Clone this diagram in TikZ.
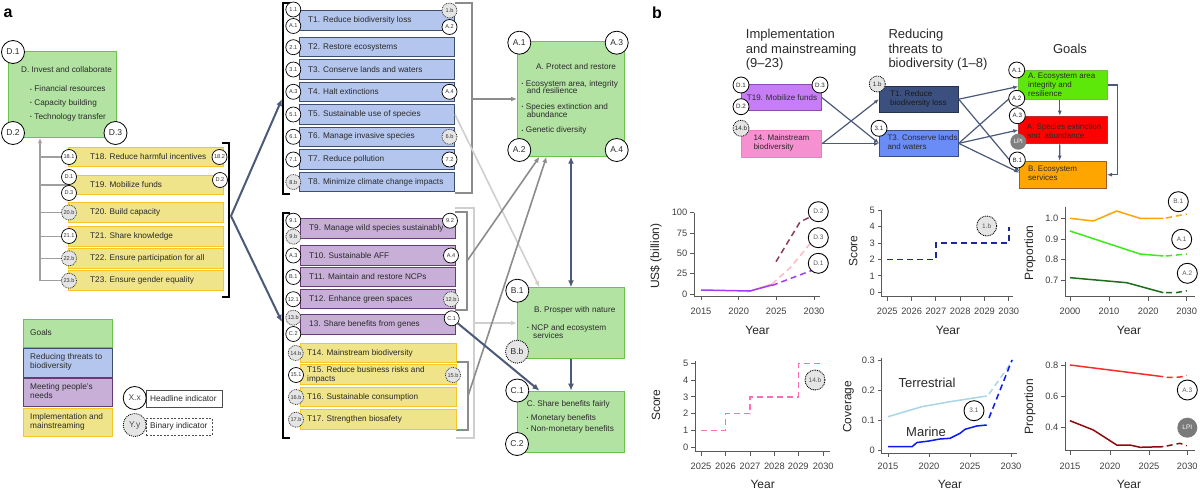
\documentclass[tikz,border=0pt]{standalone}
\usepackage{fontspec}
\setmainfont{Liberation Sans}
\usepackage{graphicx}
\usetikzlibrary{arrows.meta}
\definecolor{goalfill}{HTML}{B3E3A3}
\definecolor{goaldraw}{HTML}{6CC24A}
\definecolor{bluefill}{HTML}{B4C6EE}
\definecolor{bluedraw}{HTML}{3D4E6E}
\definecolor{purfill}{HTML}{C8AFD8}
\definecolor{purdraw}{HTML}{6A3A78}
\definecolor{yelfill}{HTML}{EFE48A}
\definecolor{yeldraw}{HTML}{F7C525}
\definecolor{slate}{HTML}{4A5A78}
\definecolor{midgray}{HTML}{8C8C8C}
\definecolor{ltgray}{HTML}{CFCFCF}
\definecolor{txtc}{HTML}{2A2A2A}
\definecolor{t19f}{HTML}{C77DF5}
\definecolor{t19d}{HTML}{8E4AB0}
\definecolor{pinkf}{HTML}{F590D1}
\definecolor{pinkd}{HTML}{EC7EC6}
\definecolor{navyf}{HTML}{3C5080}
\definecolor{navyd}{HTML}{24344F}
\definecolor{t3f}{HTML}{6A8CF7}
\definecolor{t3d}{HTML}{3A4E85}
\definecolor{limef}{HTML}{5EE80A}
\definecolor{limed}{HTML}{70C040}
\definecolor{redd}{HTML}{B43232}
\definecolor{orf}{HTML}{FFA500}
\definecolor{ord}{HTML}{9E5B2A}
\definecolor{cPur}{HTML}{A23BF5}
\definecolor{cLpink}{HTML}{FFB9C4}
\definecolor{cMaroon}{HTML}{8A3B62}
\definecolor{cNavy}{HTML}{1A2A9A}
\definecolor{cOrange}{HTML}{FFA500}
\definecolor{cGreen}{HTML}{3DEB1A}
\definecolor{cDgreen}{HTML}{1B6E1B}
\definecolor{cPink}{HTML}{FF6EB4}
\definecolor{cLblue}{HTML}{A9D6E5}
\definecolor{cBlue}{HTML}{0A1AF0}
\definecolor{cRed}{HTML}{FF2A2A}
\definecolor{cDred}{HTML}{8B0A0A}
\newcommand{\myfT}{\fontsize{8.2}{9}\selectfont}
\newcommand{\myfL}{\fontsize{8.3}{8.7}\selectfont}
\newcommand{\myfB}{\fontsize{8}{9}\selectfont}
\newcommand{\myfH}{\fontsize{13}{14.7}\selectfont}
\newcommand{\mybul}{\raisebox{0.15ex}{\scalebox{0.6}{\textbullet}}\hspace{2.5pt}}
\begin{document}
\begin{tikzpicture}[x=1pt,y=-1pt]
\tikzset{
 tx/.style={inner sep=0pt, font=\myfT, text=txtc},
 hcS/.style={circle, draw=black, line width=0.7pt, fill=white, inner sep=0pt, minimum size=15pt, font=\fontsize{5.6}{5.6}\selectfont, text=black!80},
 bcS/.style={hcS, draw=black!85, dash pattern=on 0.9pt off 0.9pt, fill=black!10},
 hcL/.style={circle, draw=black, line width=0.8pt, fill=white, inner sep=0pt, minimum size=23pt, font=\fontsize{8.5}{9}\selectfont, text=txtc},
 bcL/.style={hcL, dash pattern=on 1pt off 1pt, fill=black!10},
 hcM/.style={circle, draw=black, line width=0.8pt, fill=white, inner sep=0pt, minimum size=16pt, font=\fontsize{6.2}{6.2}\selectfont, text=txtc},
 bcM/.style={hcM, dash pattern=on 0.9pt off 0.9pt, fill=black!10},
 hcC/.style={circle, draw=black, line width=0.9pt, fill=white, inner sep=0pt, minimum size=20pt, font=\fontsize{6.5}{7}\selectfont, text=black!65},
 bcC/.style={hcC, dash pattern=on 0.9pt off 0.9pt, fill=black!10},
 goalbox/.style={draw=goaldraw, fill=goalfill, line width=1pt, inner sep=0pt},
 bluebox/.style={draw=bluedraw, fill=bluefill, line width=1pt, inner sep=0pt},
 purbox/.style={draw=purdraw, fill=purfill, line width=1pt, inner sep=0pt},
 yelbox/.style={draw=yeldraw, fill=yelfill, line width=1pt, inner sep=0pt},
 bxb/.style={line width=1pt, inner sep=0pt, anchor=north west},
 gline/.style={draw=gray!75, line width=1.1pt},
 sarrow/.style={draw=slate, line width=2pt, -{Latex[length=7pt,width=6pt]}},
 garrow/.style={draw=midgray, line width=1.6pt, -{Latex[length=6pt,width=5pt]}},
 larrow/.style={draw=ltgray, line width=1.6pt, -{Latex[length=6pt,width=5pt]}},
 barrow/.style={draw=slate, line width=1.2pt, -{Latex[length=5pt,width=4pt]}},
 axisl/.style={draw=black!65, line width=0.9pt},
 ticklab/.style={inner sep=0pt, font=\fontsize{9.3}{10}\selectfont, text=black!75},
 atitle/.style={inner sep=0pt, font=\fontsize{12}{13}\selectfont, text=black!85},
 dashln/.style={line width=1.5pt, dash pattern=on 6pt off 4pt},
 solidln/.style={line width=1.5pt},
}
\useasboundingbox (0,0) rectangle (1200,490);
\fill[white] (0,0) rectangle (1200,490);

% ================= PANEL A =================
\node[font=\fontsize{16}{16}\selectfont\bfseries, inner sep=0pt] (lbla) at (8,13) {a};

% D box
\node[goalbox, minimum width=108pt, minimum height=86pt, anchor=north west] (Dbox) at (8,51) {};
\node[tx, anchor=west] (Dt0) at (21,70) {D. Invest and collaborate};
\node[tx, anchor=west] (Dt1) at (30,89) {\mybul Financial resources};
\node[tx, anchor=west] (Dt2) at (30,103) {\mybul Capacity building};
\node[tx, anchor=west] (Dt3) at (30,117) {\mybul Technology transfer};

% stem
\coordinate (stem) at (40,281);
\draw[gline,-{Latex[length=5pt,width=4pt]}] (stem) -- (stem |- Dbox.south);

% yellow rows (left)
\foreach \n/\yy/\t in {18/157/{T18. Reduce harmful incentives},19/185/{T19. Mobilize funds},20/212.5/{T20. Build capacity},21/236.5/{T21. Share knowledge},22/258.3/{T22. Ensure participation for all},23/280.7/{T23. Ensure gender equality}}{
 \draw[gline] (stem |- 68,\yy) -- (68,\yy);
 \node[yelbox, minimum width=155pt, minimum height=19.5pt, anchor=west] (y\n) at (68,\yy) {};
 \node[tx, anchor=west] (yt\n) at (90,\yy) {\t};
}
\node[hcS] (c181) at (69,157) {18.1};
\node[hcS] (c182) at (219.5,157) {18.2};
\node[hcS] (c19a) at (69,177) {D.1};
\node[hcS] (c19c) at (69,193) {D.3};
\node[hcS] (c19b) at (220,180) {D.2};
\node[bcS] (c20b) at (69,212.5) {20.b};
\node[hcS] (c211) at (69,236) {21.1};
\node[bcS] (c22b) at (69,258.3) {22.b};
\node[bcS] (c23b) at (69,280.7) {23.b};

\node[hcL] (cD1) at (13,52) {D.1};
\node[hcL] (cD2) at (13,133) {D.2};
\node[hcL] (cD3) at (115.5,133) {D.3};

% left bracket and arrows
\draw[line width=2pt] (222,143) -- (229,143) -- (229,297) -- (222,297);
\coordinate (bY) at (231,216);
\coordinate (bB1) at (282,99);
\coordinate (bP1) at (282,322);
\draw[sarrow] (bY) -- (bB1);
\draw[sarrow] (bY) -- (bP1);

% legend
\node[goalbox, minimum width=89pt, minimum height=27.7pt, anchor=north west] (lg1) at (23,319) {};
\node[bluebox, minimum width=89pt, minimum height=28.4pt, anchor=north west] (lg2) at (23,348.3) {};
\node[purbox, minimum width=89pt, minimum height=27.7pt, anchor=north west] (lg3) at (23,378) {};
\node[yelbox, minimum width=89pt, minimum height=27.7pt, anchor=north west] (lg4) at (23,408.3) {};
\node[tx, font=\myfL, anchor=west] (lgt1) at (30,332.5) {Goals};
\node[tx, font=\myfL, anchor=west, align=left] (lgt2) at (30,362) {Reducing threats to\\biodiversity};
\node[tx, font=\myfL, anchor=west, align=left] (lgt3) at (30,391.3) {Meeting people's\\needs};
\node[tx, font=\myfL, anchor=west, align=left] (lgt4) at (30,421.7) {Implementation and\\mainstreaming};
\node[draw=black!70, line width=0.8pt, minimum width=76pt, minimum height=17.3pt, anchor=north west, inner sep=0pt] (hlr) at (146,390) {};
\node[tx, font=\myfL, anchor=west] (hlt) at (150,398.7) {Headline indicator};
\node[hcL, text=black!70] (hlc) at (134.7,398) {X.x};
\node[draw=black!70, line width=0.8pt, dash pattern=on 2pt off 1.5pt, minimum width=66pt, minimum height=17pt, anchor=north west, inner sep=0pt] (blr) at (146,418) {};
\node[tx, font=\myfL, anchor=west] (blt) at (150,426.5) {Binary indicator};
\node[bcL, text=black!70] (blc) at (134.7,425) {Y.y};

% middle: brackets
\draw[line width=2pt] (290,3) -- (283,3) -- (283,194) -- (290,194);
\draw[line width=2pt] (290,213) -- (283,213) -- (283,438) -- (290,438);
\draw[draw=midgray, line width=1.8pt] (455,3) -- (472,3) -- (472,193) -- (455,193);
\draw[draw=ltgray, line width=1.8pt] (455,208) -- (474,208) -- (474,438) -- (456,438);
\draw[draw=midgray, line width=1.8pt] (455,212) -- (467,212) -- (467,310) -- (455,310);
\draw[draw=midgray, line width=1.8pt] (456,362) -- (468,362) -- (468,430) -- (456,430);

% blue boxes
\foreach \n/\yy/\t in {1/20.5/{T1. Reduce biodiversity loss},2/47.2/{T2. Restore ecosystems},3/69.5/{T3. Conserve lands and waters},4/91.8/{T4. Halt extinctions},5/114.5/{T5. Sustainable use of species},6/136.8/{T6. Manage invasive species},7/159.5/{T7. Reduce pollution},8/182/{T8. Minimize climate change impacts}}{
 \node[bluebox, minimum width=155pt, minimum height=19.5pt, anchor=west] (b\n) at (299,\yy) {};
 \node[tx, anchor=west] (bt\n) at (308,\yy) {\t};
}
% purple boxes
\foreach \n/\yy/\t in {9/228.5/{T9. Manage wild species sustainably},10/255.5/{T10. Sustainable AFF},11/277/{T11. Maintain and restore NCPs},12/299.2/{T12. Enhance green spaces},13/324.7/{13. Share benefits from genes}}{
 \node[purbox, minimum width=155pt, minimum height=19.5pt, anchor=west] (p\n) at (299.5,\yy) {};
 \node[tx, anchor=west] (pt\n) at (309,\yy) {\t};
}
% yellow middle
\foreach \n/\yy/\t in {14/353/{T14. Mainstream biodiversity},16/397/{T16. Sustainable consumption},17/419.7/{T17. Strengthen biosafety}}{
 \node[yelbox, minimum width=155.7pt, minimum height=19.5pt, anchor=west] (m\n) at (300,\yy) {};
 \node[tx, anchor=west] (mt\n) at (307,\yy) {\t};
}
\node[yelbox, minimum width=155.7pt, minimum height=19.5pt, anchor=west] (m15) at (300,374.5) {};
\node[tx, anchor=west, align=left] (mt15) at (307,374.5) {T15. Reduce business risks and\\impacts};

% middle circles
\node[hcS] (k11) at (293.3,9.5) {1.1};
\node[hcS] (kA1) at (293.3,26) {A.1};
\node[bcS] (k1b) at (449.5,10.5) {1.b};
\node[hcS] (kA2) at (449.5,27) {A.2};
\node[hcS] (k21) at (293.3,47.2) {2.1};
\node[hcS] (k31) at (293.3,69.5) {3.1};
\node[hcS] (kA3) at (293.3,91.8) {A.3};
\node[hcS] (kA4) at (449.5,91.8) {A.4};
\node[hcS] (k51) at (293.3,114.5) {5.1};
\node[hcS] (k61) at (293.3,136.8) {6.1};
\node[bcS] (k6b) at (449.5,136.8) {6.b};
\node[hcS] (k71) at (293.3,159.5) {7.1};
\node[hcS] (k72) at (449.5,159.5) {7.2};
\node[bcS] (k8b) at (293.3,182) {8.b};
\node[hcS] (k91) at (293.3,220.7) {9.1};
\node[bcS] (k9b) at (293.3,236.7) {9.b};
\node[hcS] (k92) at (450,220.7) {9.2};
\node[hcS] (kA3b) at (293.3,255.5) {A.3};
\node[hcS] (kA4b) at (451,255.5) {A.4};
\node[hcS] (kB1) at (293.3,277) {B.1};
\node[hcS] (k121) at (293.3,299.2) {12.1};
\node[bcS] (k12b) at (451,299.2) {12.b};
\node[bcS] (k13b) at (293.3,317.7) {13.b};
\node[hcS] (kC2) at (293.3,334) {C.2};
\node[hcS] (kC1) at (451.7,318.3) {C.1};
\node[bcS] (k14b) at (295.7,353) {14.b};
\node[hcS] (k151) at (296,375) {15.1};
\node[bcS] (k15b) at (453,375) {15.b};
\node[bcS] (k16b) at (296,397) {16.b};
\node[bcS] (k17b) at (296,419.7) {17.b};

% goal boxes
\node[goalbox, minimum width=107pt, minimum height=114.4pt, anchor=north west] (Abox) at (517,41.3) {};
\node[goalbox, minimum width=107pt, minimum height=71pt, anchor=north west] (Bbox) at (517,287.3) {};
\node[goalbox, minimum width=107pt, minimum height=61pt, anchor=north west] (Cbox) at (517,390.7) {};
\node[tx, anchor=west] (At0) at (536,66.7) {A. Protect and restore};
\node[tx, anchor=west] (At1) at (521.5,84) {\mybul Ecosystem area, integrity};
\node[tx, anchor=west] (At1b) at (526.7,91) {and resilience};
\node[tx, anchor=west] (At2) at (521.5,107.3) {\mybul Species extinction and};
\node[tx, anchor=west] (At2b) at (526.7,114.3) {abundance};
\node[tx, anchor=west] (At3) at (521.5,130.7) {\mybul Genetic diversity};
\node[tx, anchor=west] (Bt0) at (534,310) {B. Prosper with nature};
\node[tx, anchor=west] (Bt1) at (527,328.3) {\mybul NCP and ecosystem};
\node[tx, anchor=west] (Bt1b) at (533,335.3) {services};
\node[tx, anchor=west] (Ct0) at (526.7,404.7) {C. Share benefits fairly};
\node[tx, anchor=west] (Ct1) at (526.5,418.3) {\mybul Monetary benefits};
\node[tx, anchor=west] (Ct2) at (526.5,429.3) {\mybul Non-monetary benefits};

% arrows to goals
\coordinate (gB) at (472,99);
\coordinate (gP) at (467,261);
\coordinate (gY) at (468,396);
\coordinate (lP) at (474,323);
\draw[larrow] (b5.east) -- ([xshift=-31.5pt]Bbox.north);
\draw[larrow] (lP) -- (lP -| Bbox.west);
\draw[garrow] (gB) -- (gB -| Abox.west);
\draw[garrow] (gP) -- ([xshift=-31.5pt]Abox.south);
\draw[garrow] (gY) -- ([xshift=-24.5pt]Abox.south);
\draw[sarrow] (kC1) -- ([xshift=-31.5pt]Cbox.north);
\draw[sarrow,{Latex[length=7pt,width=6pt]}-{Latex[length=7pt,width=6pt]}] (Abox.south) -- (Bbox.north);
\draw[sarrow] (Bbox.south) -- (Cbox.north);

\node[hcL] (gA1) at (519.3,42.7) {A.1};
\node[hcL] (gA3) at (616.7,42.7) {A.3};
\node[hcL] (gA2) at (519.3,150) {A.2};
\node[hcL] (gA4) at (616.7,150) {A.4};
\node[hcL] (gB1) at (517.3,290.7) {B.1};
\node[bcL] (gBb) at (517,351.7) {B.b};
\node[hcL] (gC1) at (517.3,390.5) {C.1};
\node[hcL] (gC2) at (517,444) {C.2};

% ================= PANEL B =================
\node[font=\fontsize{16}{16}\selectfont\bfseries, inner sep=0pt] (lblb) at (657,13) {b};
\node[inner sep=0pt, font=\myfH, align=left, anchor=west, text=txtc] (hdI) at (745.7,49.7) {Implementation\\and mainstreaming\\(9--23)};
\node[inner sep=0pt, font=\myfH, align=left, anchor=west, text=txtc] (hdR) at (888.3,49.7) {Reducing\\threats to\\biodiversity (1--8)};
\node[inner sep=0pt, font=\myfH, text=txtc] (hdG) at (1070,49.3) {Goals};

\node[bxb, draw=t19d, fill=t19f, minimum width=80pt, minimum height=25.7pt] (bT19) at (741,84.3) {};
\node[tx, font=\myfB] (bT19t) at (782,97.5) {T19. Mobilize funds};
\node[bxb, draw=pinkd, fill=pinkf, minimum width=80pt, minimum height=26.5pt] (b14) at (741,130) {};
\node[tx, font=\myfB, align=left, anchor=west] (b14t) at (753.3,143) {14. Mainstream\\biodiversity};
\node[bxb, draw=navyd, fill=navyf, minimum width=78.7pt, minimum height=26pt] (bT1) at (879,85.7) {};
\node[tx, font=\myfB, align=left, anchor=west, text=black!90] (bT1t) at (890,98.5) {T1. Reduce\\biodiversity loss};
\node[bxb, draw=t3d, fill=t3f, minimum width=78.7pt, minimum height=25.7pt] (bT3) at (879,130) {};
\node[tx, font=\myfB, align=left, anchor=west] (bT3t) at (887.3,142.6) {T3. Conserve lands\\and waters};
\node[bxb, draw=limed, fill=limef, minimum width=89pt, minimum height=29pt] (bA) at (1018.3,70) {};
\node[tx, font=\myfB, align=left, anchor=west] (bAt) at (1028,84.3) {A. Ecosystem area\\integrity and\\resilience};
\node[bxb, draw=redd, fill=red, minimum width=89pt, minimum height=27.6pt] (bR) at (1018.3,115.7) {};
\node[tx, font=\myfB, align=left, anchor=west] (bRt) at (1026.7,131.3) {A. Species extinction\\and\ \ abundance};
\node[bxb, draw=ord, fill=orf, minimum width=86.7pt, minimum height=27pt] (bO) at (1019.3,160.7) {};
\node[tx, font=\myfB, align=left, anchor=west] (bOt) at (1028,173) {B. Ecosystem\\services};

\draw[barrow] (bT19.east) -- (bT3.west);
\draw[barrow] (b14.east) -- (bT1.west);
\draw[barrow] (b14.east) -- (b14.east -| bT3.west);
\draw[barrow] (bT1.east) -- ([yshift=-1.5pt]bA.west);
\draw[barrow] (bT1.east) -- ([yshift=3pt]bO.west);
\draw[barrow] (bT3.east) -- ([yshift=-5.5pt]bA.west);
\draw[barrow] (bT3.east) -- (bR.west);
\draw[barrow] (bT3.east) -- ([yshift=2pt]bO.west);
\draw[barrow] ([xshift=-3.5pt]bA.south) -- ([xshift=-3.5pt]bR.north);
\draw[barrow] ([xshift=-3.5pt]bR.south) -- ([xshift=-3.5pt]bO.north);
\draw[barrow] (bA.east) -- ++(9.4,0) |- (bO.east);

\node[hcM] (pD1) at (741,85) {D.1};
\node[hcM] (pD3) at (820,85) {D.3};
\node[hcM] (pD2) at (741,106.7) {D.2};
\node[bcM] (p14b) at (741,128.3) {14.b};
\node[bcM] (p1b) at (877.3,84) {1.b};
\node[hcM] (p31) at (879,128.3) {3.1};
\node[hcM] (pA1) at (1016.7,70) {A.1};
\node[hcM] (pA2) at (1016.7,98.3) {A.2};
\node[hcM] (pA3) at (1017.3,115.7) {A.3};
\node[hcM, draw=none, fill=black!50, text=white] (pLPI) at (1018.3,141.7) {LPI};
\node[hcM] (pB1) at (1017.3,160) {B.1};

% ---- Chart 1: US$
\draw[axisl] (694,212.7) -- (694,296) -- (820,296);
\foreach \v/\yy [count=\i] in {0/294,25/273.7,50/253.4,75/233,100/212.7}{
 \draw[axisl] (694,\yy) -- (690,\yy);
 \node[ticklab, anchor=east] (k1y\i) at (687.5,\yy) {\v};}
\foreach \v/\xx [count=\i] in {2015/701,2020/738.7,2025/776.3,2030/814}{
 \draw[axisl] (\xx,296) -- (\xx,300);
 \node[ticklab] (k1x\i) at (\xx,311.7) {\v};}
\node[atitle] (k1t) at (757.5,330.7) {Year};
\node[atitle, rotate=90] (k1u) at (656,256) {US\$ (billion)};
\draw[solidln, cLpink] (747,292) -- (772,284);
\draw[solidln, cPur] (701,290) -- (750,291) -- (772,285);
\draw[dashln, cLpink] (772,284) -- (790,268) -- (813,240);
\draw[dashln, cPur] (772,285.5) -- (813,270);
\draw[dashln, cMaroon] (776,261.7) -- (800,222) -- (810,217);
\node[hcC] (qD2) at (818.3,211.7) {D.2};
\node[hcC] (qD3) at (818.3,237.7) {D.3};
\node[hcC] (qD1) at (818.3,263.3) {D.1};

% ---- Chart 2: Score 1.b
\draw[axisl] (881.7,210) -- (881.7,296.7) -- (1013,296.7);
\foreach \v/\yy [count=\i] in {0/292.3,1/275.8,2/259.4,3/243,4/226.5,5/210}{
 \draw[axisl] (881.7,\yy) -- (877.7,\yy);
 \node[ticklab, anchor=east] (k2y\i) at (875,\yy) {\v};}
\foreach \v/\xx [count=\i] in {2025/887.3,2026/911.6,2027/935.9,2028/960.2,2029/984.5,2030/1008.8}{
 \draw[axisl] (\xx,296.7) -- (\xx,300.7);
 \node[ticklab] (k2x\i) at (\xx,311.7) {\v};}
\node[atitle] (k2t) at (948,330.7) {Year};
\node[atitle, rotate=90] (k2u) at (853.3,251) {Score};
\draw[dashln, cNavy] (887.3,259.4) -- (935.9,259.4) -- (935.9,243) -- (1008.8,243) -- (1008.8,226.5);
\node[bcC] (q1b) at (986.7,226) {1.b};

% ---- Chart 3: Proportion A/B
\draw[axisl] (1065,206.7) -- (1065,296.7) -- (1195,296.7);
\foreach \v/\yy [count=\i] in {0.7/280,0.8/259.5,0.9/239,1.0/218.3}{
 \draw[axisl] (1065,\yy) -- (1061,\yy);
 \node[ticklab, anchor=east] (k3y\i) at (1058.5,\yy) {\v};}
\foreach \v/\xx [count=\i] in {2000/1070,2010/1109,2020/1148.3,2030/1186.7}{
 \draw[axisl] (\xx,296.7) -- (\xx,300.7);
 \node[ticklab] (k3x\i) at (\xx,311.7) {\v};}
\node[atitle] (k3t) at (1129,330.7) {Year};
\node[atitle, rotate=90] (k3u) at (1030,253) {Proportion};
\draw[solidln, cOrange] (1070,218.3) -- (1093.3,221) -- (1116.7,211) -- (1140,218.3) -- (1163.3,218.3);
\draw[dashln, cOrange] (1166,218) -- (1186.7,214);
\draw[solidln, cGreen] (1070,231) -- (1140,254) -- (1163.3,256);
\draw[dashln, cGreen] (1166,256) -- (1187,254);
\draw[solidln, cDgreen] (1070,277.7) -- (1126.7,282.7) -- (1163.3,292.7);
\draw[dashln, cDgreen] (1166,292.7) -- (1177,292.5) -- (1187,290.7);
\node[hcC] (qB1) at (1178.3,201.7) {B.1};
\node[hcC] (qA1) at (1181.7,239.3) {A.1};
\node[hcC] (qA2) at (1187.3,273.3) {A.2};

% ---- Chart 4: Score 14.b
\draw[axisl] (695,361) -- (695,451.7) -- (830,451.7);
\foreach \v/\yy [count=\i] in {0/447.3,1/430.5,2/413.7,3/396.9,4/380.1,5/363.3}{
 \draw[axisl] (695,\yy) -- (691,\yy);
 \node[ticklab, anchor=east] (k4y\i) at (688.5,\yy) {\v};}
\foreach \v/\xx [count=\i] in {2025/701,2026/725.5,2027/750,2028/774.4,2029/798.3,2030/823.3}{
 \draw[axisl] (\xx,451.7) -- (\xx,455.7);
 \node[ticklab] (k4x\i) at (\xx,466.7) {\v};}
\node[atitle] (k4t) at (762.7,484.3) {Year};
\node[atitle, rotate=90] (k4u) at (656,405) {Score};
\draw[dashln, cPink] (701,430.5) -- (725.5,430.5) -- (725.5,413.7) -- (750,413.7) -- (750,396.9) -- (798.3,396.9) -- (798.3,363.3) -- (823.3,363.3);
\node[bcC] (q14b) at (815,380) {14.b};

% ---- Chart 5: Coverage
\draw[axisl] (881.7,358) -- (881.7,453) -- (1017,453);
\foreach \v/\yy [count=\i] in {0/450,0.1/420,0.2/390,0.3/360}{
 \draw[axisl] (881.7,\yy) -- (877.7,\yy);
 \node[ticklab, anchor=east] (k5y\i) at (875,\yy) {\v};}
\foreach \v/\xx [count=\i] in {2015/888,2020/929,2025/970,2030/1011}{
 \draw[axisl] (\xx,453) -- (\xx,457);
 \node[ticklab] (k5x\i) at (\xx,466.7) {\v};}
\node[atitle] (k5t) at (950,484.3) {Year};
\node[atitle, rotate=90] (k5u) at (848.3,406.7) {Coverage};
\draw[solidln, cLblue] (888,416.7) -- (913,409.3) -- (921.7,406.7) -- (950,401.7) -- (986.7,396);
\draw[dashln, cLblue] (989,394) -- (1013,360);
\draw[solidln, cBlue] (888,446.7) -- (912,446.7) -- (917,442.5) -- (929,441) -- (940,439) -- (950,438.3) -- (960,433.3) -- (965,429.3) -- (976.7,426) -- (986.7,425);
\draw[dashln, cBlue] (989,418) -- (1012,360);
\node[inner sep=0pt, font=\fontsize{13}{14}\selectfont, text=txtc, anchor=west] (terr) at (898.3,383.3) {Terrestrial};
\node[inner sep=0pt, font=\fontsize{13}{14}\selectfont, text=txtc, anchor=west] (mar) at (906,431.7) {Marine};
\node[hcC] (q31) at (974,410.7) {3.1};

% ---- Chart 6: Proportion A.3 / LPI
\draw[axisl] (1065,361.7) -- (1065,450.7) -- (1195,450.7);
\foreach \v/\yy [count=\i] in {0.4/427.7,0.6/396.3,0.8/365}{
 \draw[axisl] (1065,\yy) -- (1061,\yy);
 \node[ticklab, anchor=east] (k6y\i) at (1058.5,\yy) {\v};}
\foreach \v/\xx [count=\i] in {2015/1070,2020/1110,2025/1149,2030/1187.3}{
 \draw[axisl] (\xx,450.7) -- (\xx,454.7);
 \node[ticklab] (k6x\i) at (\xx,466.7) {\v};}
\node[atitle] (k6t) at (1129,484.3) {Year};
\node[atitle, rotate=90] (k6u) at (1030,406.7) {Proportion};
\draw[solidln, cRed] (1070,365) -- (1163.3,376.7);
\draw[dashln, cRed] (1166.7,377.5) -- (1180,377) -- (1187,375.5);
\draw[solidln, cDred] (1070,420.7) -- (1093.3,430) -- (1116.7,445) -- (1130,445) -- (1140,447.3) -- (1163.3,446.7);
\draw[dashln, cDred] (1166.7,446) -- (1180,443.3) -- (1186.7,445.7);
\node[hcC] (qA3) at (1187.3,390) {A.3};
\node[hcC, draw=none, fill=black!52, text=white] (qLPI) at (1187.3,427.7) {LPI};
\end{tikzpicture}
\end{document}
